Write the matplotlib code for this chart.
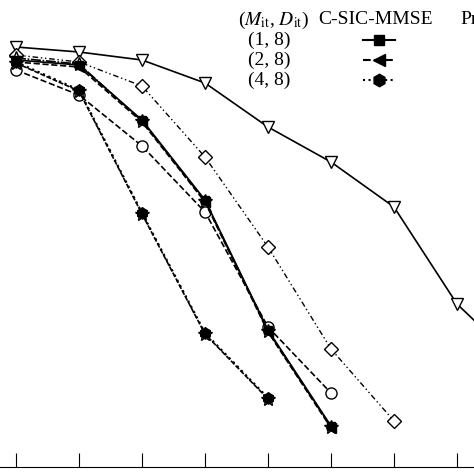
import matplotlib
matplotlib.use("Agg")
import matplotlib.pyplot as plt
import numpy as np

plt.rcParams['font.family'] = ['Liberation Serif', 'DejaVu Serif']
plt.rcParams['mathtext.fontset'] = 'stix'

snr = [0, 1, 2, 3, 4, 5, 6, 7, 8]
# values given as -log10(BER)*100
prop_ref = [47, 52, 60, 83, 127, 162, 207, 304, 364]
diam = [55, 62, 86, 157, 247, 349, 421]
circ = [70, 95, 146, 212, 327, 393]
sic18 = [60, 65, 120, 200, 330, 426]
sic28 = [62, 67, 122, 202, 332, 428]
sic48 = [62, 90, 213, 333, 398]
prop18 = [58, 64, 121, 201, 331, 427]
prop48 = [63, 91, 214, 334, 399]

def ber(v):
    return 10 ** (-np.array(v) / 100.0)

fig = plt.figure(figsize=(4.74, 4.74), dpi=100)
ax = fig.add_axes([0, 7/474, 1, 467/474])
ax.set_yscale('log')
ax.set_xlim(-16/63, 458/63)
ax.set_ylim(10 ** (-4.67), 1)

k = dict(color='black', lw=1.2, mfc='white', mec='black', ms=8)
ax.plot(snr[:len(prop_ref)], ber(prop_ref), '-', marker='v', **k)
ax.plot(snr[:len(diam)], ber(diam), linestyle=(0, (4, 2, 1, 2, 1, 2)), marker='D', ms=7, color='black', lw=1.0, mfc='white', mec='black')
ax.plot(snr[:len(circ)], ber(circ), '--', marker='o', ms=8, color='black', lw=1.2, mfc='white', mec='black')
ax.plot(snr[:len(prop18)], ber(prop18), linestyle=(0, (6, 1, 1, 1)), marker='*', ms=10, color='black', lw=1.2, mfc='white', mec='black')
ax.plot(snr[:len(sic18)], ber(sic18), '-', marker='s', ms=6, color='black', lw=1.2)
ax.plot(snr[:len(sic28)], ber(sic28), '--', marker='<', ms=7, color='black', lw=1.2)
ax.plot(snr[:len(prop48)], ber(prop48), linestyle=(0, (3, 1)), marker='*', ms=10, color='black', lw=1.2, mfc='white', mec='black')
ax.plot(snr[:len(sic48)], ber(sic48), ':', marker='h', ms=8, color='black', lw=1.6)

for s in ['top', 'left', 'right']:
    ax.spines[s].set_visible(False)
ax.tick_params(axis='x', direction='in', length=10, labelbottom=False)
ax.tick_params(axis='y', left=False, labelleft=False, which='both')
ax.set_xticks(snr[:8])

fs = 14
fig.text(238/474, 1 - 20/474, r'($M_{\rm it}$, $D_{\rm it}$)', fontsize=fs, ha='left', va='center')
fig.text(318/474, 1 - 20/474, 'C-SIC-MMSE', fontsize=fs, ha='left', va='center')
fig.text(460/474, 1 - 20/474, 'Pr', fontsize=fs, ha='left', va='center')
rows = ['(1, 8)', '(2, 8)', '(4, 8)']
styles = [('-', 's', 7), ('--', '<', 8), (':', 'h', 9)]
for i, (r, (ls, m, ms)) in enumerate(zip(rows, styles)):
    y = 1 - (40 + 20 * i) / 474
    fig.text(248/474, y, r, fontsize=fs, ha='left', va='center')
    fig.add_artist(plt.Line2D([363/474, 379/474, 395/474], [y, y, y], color='black', lw=1.5, linestyle=ls,
                              marker=m, markevery=[1], ms=ms, transform=fig.transFigure))

fig.savefig('out.png', dpi=100)
